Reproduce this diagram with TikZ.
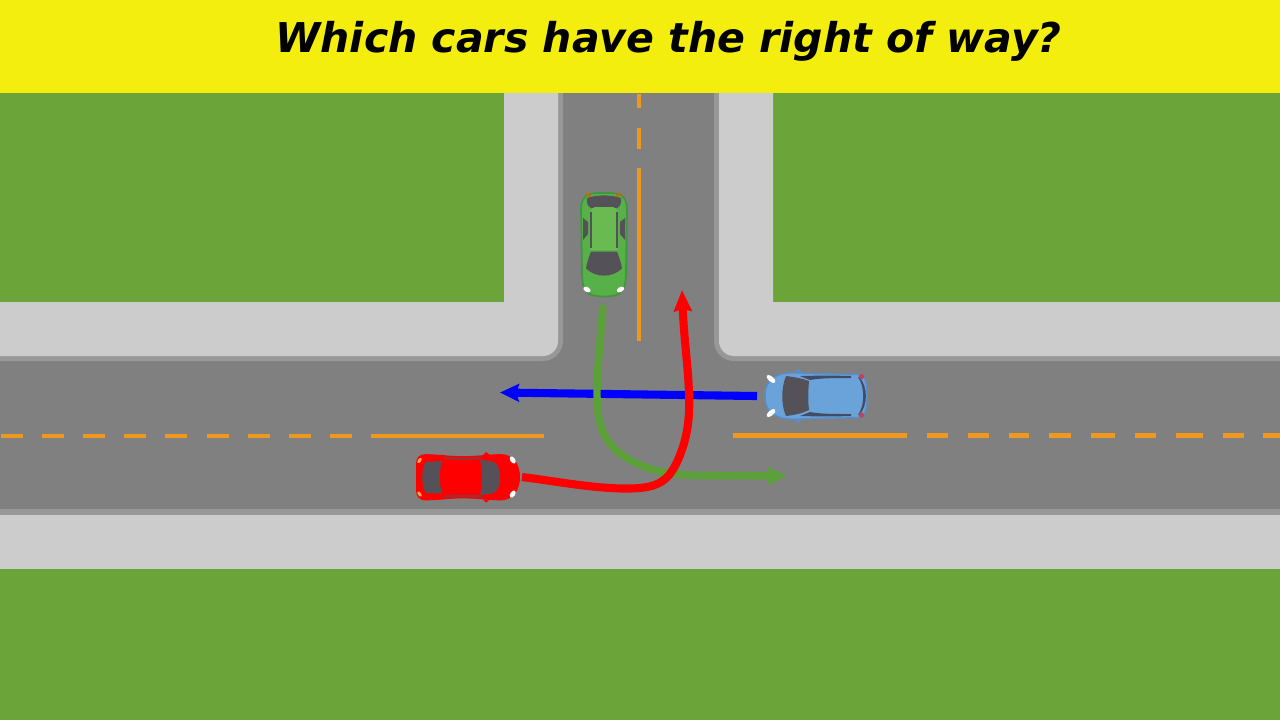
\documentclass[tikz,border=0pt]{standalone}
\usepackage{fontspec}
\usepackage{color}
\setmainfont{DejaVu Sans}
\usetikzlibrary{arrows.meta}
\definecolor{grass}{RGB}{107,165,57}
\definecolor{banner}{RGB}{244,238,14}
\definecolor{road}{RGB}{128,128,128}
\definecolor{curb}{RGB}{152,152,152}
\definecolor{walk}{RGB}{204,204,204}
\definecolor{lane}{RGB}{238,152,32}
\definecolor{glass}{RGB}{84,82,88}
\definecolor{bluecar}{RGB}{106,163,218}
\definecolor{blueedge}{RGB}{88,142,204}
\definecolor{bluestrip}{RGB}{66,76,100}
\definecolor{greencar}{RGB}{88,176,72}
\definecolor{greenroof}{RGB}{106,186,82}
\definecolor{greenedge}{RGB}{62,150,62}
\definecolor{greenpath}{RGB}{92,160,58}
\tikzset{
  laneline/.style={draw=lane,line width=1.4pt},
  pathline/.style={line width=2.1pt,line cap=butt},
  lamp/.style={fill=white},
}
\begin{document}
\begin{tikzpicture}[x=0.01cm,y=-0.01cm]
\useasboundingbox (0,0) rectangle (1280,720);
\fill[grass] (0,0) rectangle (1280,720);
\fill[banner] (0,0) rectangle (1280,93);
\node[anchor=base,inner sep=0pt] (title) at (668.5,52) {\fontsize{11.67}{14}\selectfont\bfseries\itshape Which cars have the right of way?};
% road and bottom sidewalk
\fill[walk] (0,515) rectangle (1280,569);
\fill[curb] (0,509) rectangle (1280,515);
\fill[road] (0,361) rectangle (1280,509);
\fill[road] (530,93) rectangle (750,361);
% sidewalks with curbs
\fill[curb] (558,93) -- (563,93) -- (563,341) arc[start angle=0,end angle=90,radius=20] -- (0,361) -- (0,340) -- (540,340) -- cycle;
\fill[curb] (719,93) -- (714,93) -- (714,341) arc[start angle=180,end angle=90,radius=20] -- (1280,361) -- (1280,340) -- (737,340) -- cycle;
\fill[walk] (0,302) -- (504,302) -- (504,93) -- (558,93) -- (558,341) arc[start angle=0,end angle=90,radius=15] -- (0,356) -- cycle;
\fill[walk] (1280,302) -- (773,302) -- (773,93) -- (719,93) -- (719,341) arc[start angle=180,end angle=90,radius=15] -- (1280,356) -- cycle;
% lane markings
\foreach \x in {1,42,83,124,165,207,248,289,330}
  \draw[laneline] (\x,436) -- ++(22,0);
\draw[laneline] (371,436) -- (544,436);
\draw[laneline] (733,435.5) -- (907,435.5);
\foreach \a/\b in {927/948,968/989,1009/1029,1049/1071,1091/1115,1135/1156,1176/1203,1223/1244,1263/1280}
  \draw[laneline] (\a,435.5) -- (\b,435.5);
\draw[laneline] (639,94) -- (639,108);
\draw[laneline] (639,128) -- (639,149);
\draw[laneline] (639,168) -- (639,341);
% paths
\coordinate (bluestart) at (757,396);
\coordinate (blueend) at (500,392.5);
\coordinate (greenstart) at (603,305);
\coordinate (greenend) at (787,476);
\coordinate (redstart) at (522,477);
\coordinate (redend) at (682,290);
\draw[pathline,blue,line width=2.3pt,-{Stealth[length=5.4pt,width=5pt,inset=0.8pt]}] (bluestart) -- (blueend);
\draw[pathline,greenpath,-{Stealth[length=5.4pt,width=5pt,inset=0.4pt]}] (greenstart) .. controls (600,345) and (597,370) .. (597,393)
  .. controls (597,425) and (603,445) .. (630,460) .. controls (650,471) and (670,475) .. (700,475.5) -- (greenend);
\draw[pathline,red,line width=2.3pt,-{Stealth[length=6pt,width=5pt,inset=0.6pt]}] (redstart) .. controls (555,481) and (595,489) .. (630,488.5)
  .. controls (660,488) and (670,480) .. (680,455) .. controls (688,435) and (690,415) .. (689,393) .. controls (688,365) and (684,340) .. (redend);
% red car
\begin{scope}
\fill[red] (426,454) -- (443,455) .. controls (455,456.5) and (470,456.5) .. (484,455) -- (500,454) .. controls (514,454) and (520,465) .. (520,477)
  .. controls (520,489) and (514,500.5) .. (500,500.5) -- (484,499.5) .. controls (470,498) and (455,498) .. (443,499.5) -- (426,500.5) .. controls (419,500.5) and (416,496) .. (416,490) -- (416,464) .. controls (416,458) and (419,454) .. (426,454) -- cycle;
\fill[red] (483,455) -- (486,452) -- (490,455) -- cycle;
\fill[red] (483,499.5) -- (486,502.5) -- (490,499.5) -- cycle;
\fill[glass!65!red] (443,456.5) .. controls (455,458) and (470,458) .. (484,456.5) -- (480,459) .. controls (470,460) and (455,460) .. (446,459) -- cycle;
\fill[glass!65!red] (443,498) .. controls (455,496.5) and (470,496.5) .. (484,498) -- (480,495.5) .. controls (470,494.5) and (455,494.5) .. (446,495.5) -- cycle;
\fill[glass] (426,462) -- (442,461) .. controls (439,470) and (439,484) .. (442,493.5) -- (426,493) .. controls (421,485) and (421,470) .. (426,462) -- cycle;
\fill[glass] (480,460) .. controls (490,460.5) and (496,462) .. (497,465) .. controls (501,472) and (501,483) .. (497,490) .. controls (496,493) and (490,494.5) .. (480,495) .. controls (483,485) and (483,470) .. (480,460) -- cycle;
\fill[lamp,rotate around={35:(512.7,460)}] (512.7,460) ellipse (2.4 and 4);
\fill[lamp,rotate around={-35:(512.7,494)}] (512.7,494) ellipse (2.4 and 4);
\fill[orange!70!white,rotate around={-35:(419.5,460.5)}] (419.5,460.5) ellipse (1.6 and 3);
\fill[orange!70!white,rotate around={35:(419.5,494)}] (419.5,494) ellipse (1.6 and 3);
\end{scope}
% blue car
\begin{scope}
\fill[bluecar,draw=blueedge,line width=0.4pt] (798,373) .. controls (820,374) and (840,374) .. (858,374.5) .. controls (864,375) and (867,380) .. (867,396) .. controls (867,412) and (864,417) .. (858,417.5) .. controls (840,418) and (820,418) .. (798,419) .. controls (778,420) and (765,414) .. (765,396) .. controls (765,378) and (778,372) .. (798,373) -- cycle;
\fill[blueedge] (795,373) -- (798,368.5) -- (802,373) -- cycle;
\fill[blueedge] (795,419) -- (798,423.5) -- (802,419) -- cycle;
\fill[glass] (786,376) .. controls (795,377) and (804,379) .. (809,381) .. controls (808,392) and (808,402) .. (809,410) .. controls (803,413) and (795,415) .. (786,416) .. controls (781,405) and (781,388) .. (786,376) -- cycle;
\fill[bluestrip] (800,376) .. controls (820,375.5) and (835,375.5) .. (851,376) -- (851,378) .. controls (835,378) and (820,378) .. (810,380) -- cycle;
\fill[bluestrip] (800,416) .. controls (820,416.5) and (835,416.5) .. (851,416) -- (851,414) .. controls (835,414) and (820,414) .. (810,412) -- cycle;
\fill[bluestrip] (858,377) .. controls (865,387) and (865,405) .. (858,415) -- (859.5,415) .. controls (868,405) and (868,387) .. (859.5,377) -- cycle;
\fill[lamp,rotate around={50:(771,379)}] (771,379) ellipse (2.6 and 5.5);
\fill[lamp,rotate around={-50:(771,413)}] (771,413) ellipse (2.6 and 5.5);
\fill[red!60!bluecar] (861.5,376.5) circle (2.6);
\fill[red!60!bluecar] (861.5,415) circle (2.6);
\end{scope}
% green car
\begin{scope}
\fill[greencar,draw=greenedge,line width=0.5pt] (590,194) .. controls (597,192.5) and (611,192.5) .. (618,194) .. controls (625,196) and (627,202) .. (627,210) -- (626,272) .. controls (626,285) and (624,292) .. (616,295) .. controls (608,297) and (600,297) .. (592,295) .. controls (584,292) and (582,285) .. (582,272) -- (581,210) .. controls (581,202) and (583,196) .. (590,194) -- cycle;
\fill[glass] (587,198) .. controls (597,194.5) and (611,194.5) .. (621,198) .. controls (622,202) and (620,207) .. (617,208) -- (591,208) .. controls (588,207) and (586,202) .. (587,198) -- cycle;
\fill[glass] (583,218) -- (588,222) -- (588,234) -- (583,240) -- cycle;
\fill[glass] (625,218) -- (620,222) -- (620,234) -- (625,240) -- cycle;
\fill[greenroof] (595,207) -- (613,207) .. controls (617,208) and (618,212) .. (618,220) -- (618,250) -- (590,250) -- (590,220) .. controls (590,212) and (591,208) .. (595,207) -- cycle;
\fill[glass] (590,212) rectangle (592,247.5);
\fill[glass] (615.5,212) rectangle (617.5,247.5);
\fill[glass] (591,251.5) -- (617,251.5) .. controls (619,257) and (621,262) .. (622,268.5) .. controls (612,278) and (596,278) .. (586,268.5) .. controls (587,262) and (589,257) .. (591,251.5) -- cycle;
\fill[lamp,rotate around={60:(587,289.5)}] (587,289.5) ellipse (2.4 and 4);
\fill[lamp,rotate around={-60:(620.5,289.5)}] (620.5,289.5) ellipse (2.4 and 4);
\fill[orange!80!black,rotate around={60:(588.5,195)}] (588.5,195) ellipse (1.4 and 3);
\fill[orange!80!black,rotate around={-60:(618.5,195)}] (618.5,195) ellipse (1.4 and 3);
\end{scope}
\end{tikzpicture}
\end{document}
